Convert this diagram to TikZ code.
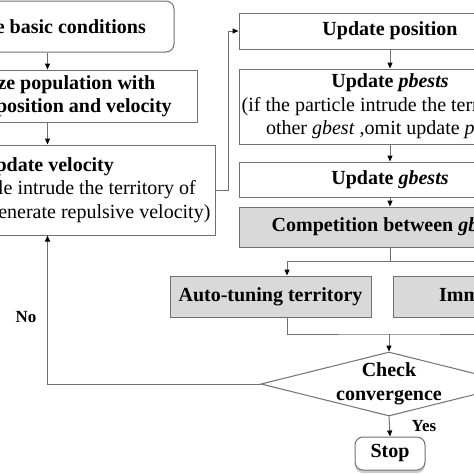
\documentclass[tikz,border=0pt]{standalone}
\usepackage{fontspec}
\setmainfont{Liberation Serif}
\usepackage{xcolor}
\usetikzlibrary{positioning,arrows.meta,shapes.geometric,shadows}
\definecolor{edgegray}{RGB}{112,112,112}
\definecolor{boxgray}{RGB}{217,217,217}
\newcommand{\bigfont}{\fontsize{20}{23.5}\selectfont}
\tikzset{
  tbx/.style={rectangle, draw=edgegray, fill=white, line width=1pt, align=center, inner sep=2pt, font=\bigfont},
  bx/.style={tbx, font=\bigfont\bfseries},
  gbx/.style={bx, fill=boxgray},
  rbx/.style={bx, rounded corners=8pt},
  dec/.style={diamond, draw=edgegray, fill=white, line width=1pt, inner sep=0pt, minimum width=256pt, minimum height=64pt},
  ln/.style={draw=edgegray, line width=1pt},
  arr/.style={ln, -{Triangle[length=6pt, width=5pt, color=black]}},
  lbl/.style={font=\fontsize{17}{19}\selectfont\bfseries, inner sep=1pt}
}

\begin{document}
\begin{tikzpicture}[x=1pt, y=-1pt]
  \useasboundingbox (0,0) rectangle (474,474);
  \clip (0,0) rectangle (474,474);

  % Left column
  \node[rbx, minimum width=253pt, minimum height=51pt] (start) at (47.5,26.5) {Define basic conditions};
  \node[bx, minimum width=299pt, minimum height=52pt] (init) at (47.5,96) {Initialize population with\\random position and velocity};
  \node[tbx, minimum width=335pt, minimum height=90pt] (vel) at (47.5,190)
    {\textbf{Update velocity}\\(if the particle intrude the territory of\\other \textit{gbest} , generate repulsive velocity)};

  % Right column
  \node[bx, minimum width=302pt, minimum height=36pt] (pos) at (390,31) {Update position};
  \node[tbx, minimum width=302pt, minimum height=75pt] (pb) at (390,106.5)
    {\textbf{Update \textit{pbests}}\\(if the particle intrude the territory of\\other \textit{gbest} ,omit update \textit{pbest})};
  \node[bx, minimum width=302pt, minimum height=35pt] (gb) at (390,179.5) {Update \textit{gbests}};
  \node[gbx, minimum width=302pt, minimum height=40pt] (comp) at (390,227) {Competition between \textit{gbests}};

  % Territory strategies
  \node[gbx, minimum width=201pt, minimum height=41pt] (auto) at (270.5,296.5) {Auto-tuning territory};
  \node[gbx, minimum width=201pt, minimum height=41pt] (imm) at (493.5,296.5) {Immigration};

  % Decision and end
  \node[dec] (chk) at (389,384) {};
  \node[font=\bigfont\bfseries, align=center] (chktxt) at (chk.center) {Check\\convergence};
  \node[rbx, minimum width=70pt, minimum height=33pt,
    drop shadow={shadow xshift=0pt, shadow yshift=-3pt, fill=gray!80}] (stop) at (390,453.5) {Stop};

  \coordinate (split) at (390,261);
  \coordinate (merge) at (389,334);

  % Connectors
  \draw[arr] (start) -- (init);
  \draw[arr] (init) -- (vel);
  \draw[arr] (vel.east) -- ++(13,0) |- (pos.west);
  \draw[arr] (pos) -- (pb);
  \draw[arr] (pb) -- (gb);
  \draw[arr] (gb) -- (comp);
  \draw[ln] (comp) -- (split);
  \draw[arr] (split) -| ([xshift=16.5pt]auto.north);
  \draw[arr] (split) -| ([xshift=-0.5pt]imm.north);
  \draw[ln] ([xshift=16.5pt]auto.south) |- (merge) -| ([xshift=-0.5pt]imm.south);
  \draw[arr] (merge) -- (chk.north);
  \draw[arr] (chk.west) -| (vel.south);
  \draw[arr] (chk.south) -- (stop.north);

  % Branch labels
  \node[lbl] (no) at (26,317) {No};
  \node[lbl] (yes) at (424,426) {Yes};
\end{tikzpicture}
\end{document}
